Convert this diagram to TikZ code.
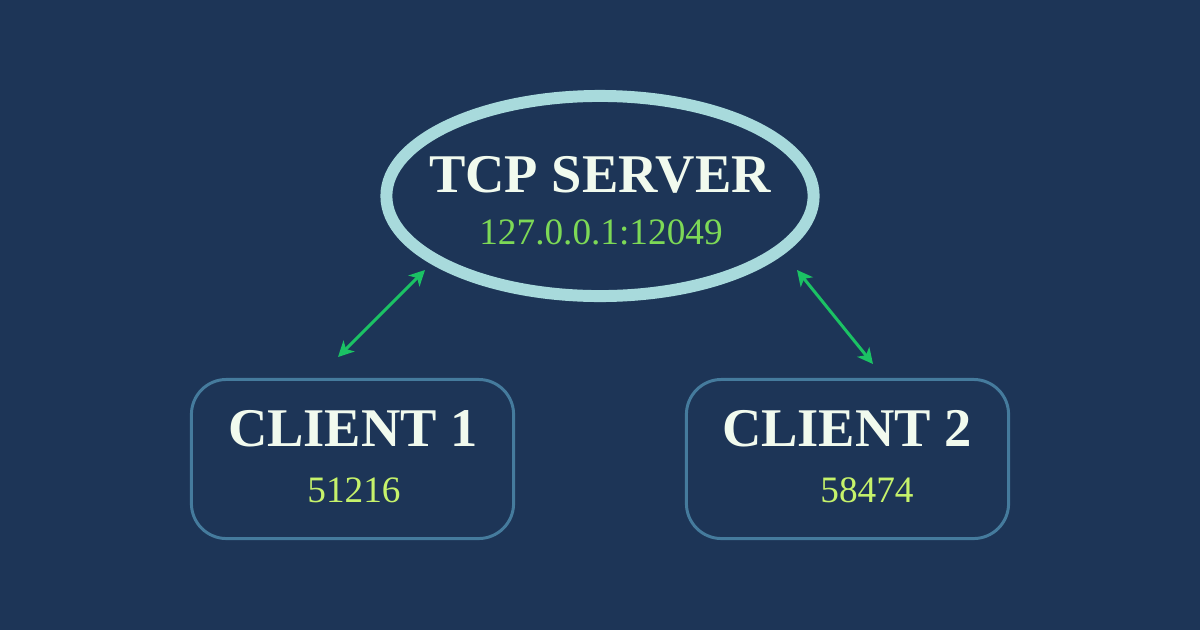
\documentclass[tikz,border=0pt]{standalone}
\usepackage{fontspec}
\setmainfont{Liberation Serif}
\usepackage{xcolor}
\usetikzlibrary{shapes.geometric,arrows.meta}

\definecolor{bgnavy}{HTML}{1D3557}
\definecolor{ringblue}{HTML}{A8DADC}
\definecolor{boxblue}{HTML}{457B9D}
\definecolor{titlewhite}{HTML}{F1FAEE}
\definecolor{addrgreen}{HTML}{7DD956}
\definecolor{portgreen}{HTML}{C6F26B}
\definecolor{linkgreen}{HTML}{1BC264}

\tikzset{
	title/.style={font=\bfseries\fontsize{15.5}{18}\selectfont, text=titlewhite,
		anchor=base, inner sep=0pt},
	addr/.style={font=\fontsize{10.6}{12}\selectfont, anchor=base, inner sep=0pt},
	clientbox/.style={draw=boxblue, line width=0.85pt, rounded corners=0.35cm,
		minimum width=3.22cm, minimum height=1.59cm, inner sep=0pt},
	link/.style={draw=linkgreen, line width=0.85pt,
		{Stealth[length=4.4pt,width=4.4pt,inset=1.2pt]}-{Stealth[length=4.4pt,width=4.4pt,inset=1.2pt]}}
}

\begin{document}
\begin{tikzpicture}[x=0.01cm, y=-0.01cm]
	% Canvas is measured in pixels of the 1200x630 frame.
	\fill[bgnavy] (0,0) rectangle (1200,630);
	\useasboundingbox (0,0) rectangle (1200,630);

	% The server ring and its two lines of text.
	\node[ellipse, draw=ringblue, line width=3.4pt,
		minimum width=4.27cm, minimum height=2cm, inner sep=0pt] (server) at (600,196) {};
	\node[title] (servername) at (600,192) {TCP SERVER};
	\node[addr, text=addrgreen] (serveraddr) at (601,244) {127.0.0.1:12049};

	% Client boxes.
	\node[clientbox] (client1) at (352.5,459) {};
	\node[title] (clientname1) at (353,446) {CLIENT 1};
	\node[addr, text=portgreen] (clientport1) at (354,502) {51216};

	\node[clientbox] (client2) at (847.5,459) {};
	\node[title] (clientname2) at (847,446) {CLIENT 2};
	\node[addr, text=portgreen] (clientport2) at (867,502) {58474};

	% Links between the clients and the server.
	\coordinate (l1a) at (338,357);
	\coordinate (l1b) at (425,270);
	\coordinate (l2a) at (873,364);
	\coordinate (l2b) at (797,270);
	\draw[link] (l1a) -- (l1b);
	\draw[link] (l2a) -- (l2b);
\end{tikzpicture}
\end{document}
